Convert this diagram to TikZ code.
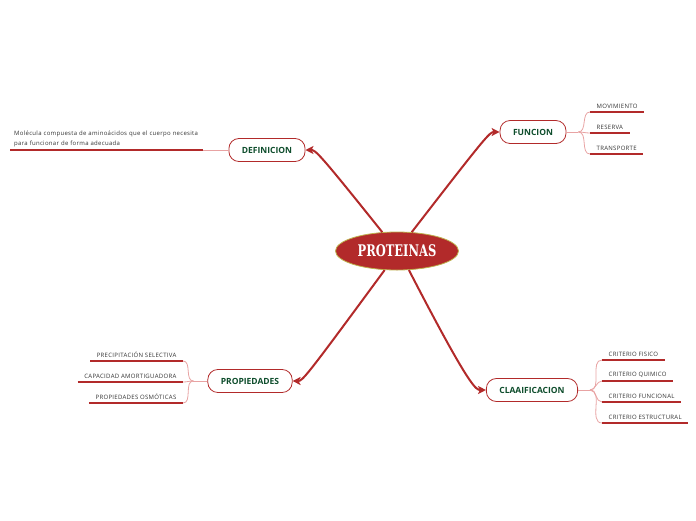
\documentclass[tikz,border=0pt]{standalone}
\usepackage{fontspec}
\setmainfont{Open Sans}
\newfontfamily\titlefont[FakeStretch=0.72]{DejaVu Serif}
\newfontfamily\hojafont[LetterSpace=5]{Open Sans}
\usetikzlibrary{positioning,arrows.meta,shapes.geometric}
\definecolor{rojo}{HTML}{B22A2A}
\definecolor{rosa}{HTML}{E8A3A3}
\definecolor{verde}{HTML}{0E4D2C}
\definecolor{oliva}{HTML}{BDB24E}
\definecolor{gris}{HTML}{333333}
\tikzset{
	raiz/.style={ellipse, draw=oliva, line width=0.8pt, fill=rojo, text=white,
		minimum width=123pt, minimum height=38pt, inner sep=0pt,
		font=\titlefont\bfseries\fontsize{16}{18}\selectfont},
	tema/.style={draw=rojo, line width=0.8pt, fill=white, rounded corners=10pt,
		minimum height=23pt, inner xsep=13pt, text=verde,
		font=\bfseries\fontsize{8.5}{10}\selectfont},
	rama/.style={draw=rojo, line width=2pt, -{Stealth[length=8pt,width=8pt,inset=2pt]}},
	hoja/.style={text=gris, inner xsep=6.5pt, inner ysep=3pt,
		font=\hojafont\fontsize{6}{7}\selectfont},
	subrayado/.style={draw=rojo, line width=1.6pt},
	abanico/.style={draw=rosa, line width=0.8pt}
}
\begin{document}
\begin{tikzpicture}[x=1pt, y=-1pt]
	\useasboundingbox (0,0) rectangle (696,520);
	\node[raiz] (prot) at (397,251) {PROTEINAS};
	\node[tema] (defi) at (267,150) {DEFINICION};
	\node[tema] (func) at (533,132) {FUNCION};
	\node[tema] (prop) at (250,381) {PROPIEDADES};
	\node[tema] (clas) at (532,390) {CLAAIFICACION};
	
	\draw[rama] (prot.128) .. controls +(-64,-80) and +(10,0) .. (defi.east);
	\draw[rama] (prot.52) .. controls +(75,-97) and +(-10,0) .. (func.west);
	\draw[rama] (prot.237) .. controls +(-78,106) and +(10,0) .. (prop.east);
	\draw[rama] (prot.302) .. controls +(61,118) and +(-10,0) .. (clas.west);
	
	% definicion
	\node[hoja, anchor=south west, text width=185pt, inner xsep=4pt, align=left,
		font=\hojafont\fontsize{6}{9.5}\selectfont] (defiTxt) at (10,150)
		{Molécula compuesta de aminoácidos que el cuerpo necesita\\para funcionar de forma adecuada};
	\draw[subrayado] (defiTxt.south west) -- (defiTxt.south east);
	\draw[abanico] (defiTxt.south east) -- (defi.west);
	
	% funcion
	\coordinate[right=12pt of func.east] (funcFan);
	\node[hoja, anchor=south west] (movi) at (590,112) {MOVIMIENTO};
	\node[hoja, anchor=south west] (rese) at (590,133) {RESERVA};
	\node[hoja, anchor=south west] (tran) at (590,154) {TRANSPORTE};
	\draw[abanico] (func.east) -- (funcFan);
	\foreach \n in {movi,rese,tran} {
		\draw[abanico] (funcFan) to[out=0, in=180] (\n.south west);
		\draw[subrayado] (\n.south west) -- (\n.south east);
	}
	
	% propiedades
	\coordinate[left=14pt of prop.west] (propFan);
	\node[hoja, anchor=south east] (prec) at (183,361) {PRECIPITACIÓN SELECTIVA};
	\node[hoja, anchor=south east] (capa) at (183,382) {CAPACIDAD AMORTIGUADORA};
	\node[hoja, anchor=south east] (osmo) at (183,403) {PROPIEDADES OSMÓTICAS};
	\draw[abanico] (prop.west) -- (propFan);
	\foreach \n in {prec,capa,osmo} {
		\draw[abanico] (propFan) to[out=180, in=0] (\n.south east);
		\draw[subrayado] (\n.south west) -- (\n.south east);
	}
	
	% clasificacion
	\coordinate[right=12pt of clas.east] (clasFan);
	\node[hoja, anchor=south west] (fisi) at (602,360) {CRITERIO FISICO};
	\node[hoja, anchor=south west] (quim) at (602,381) {CRITERIO QUIMICO};
	\node[hoja, anchor=south west] (funi) at (602,402) {CRITERIO FUNCIONAL};
	\node[hoja, anchor=south west] (estr) at (602,423) {CRITERIO ESTRUCTURAL};
	\draw[abanico] (clas.east) -- (clasFan);
	\foreach \n in {fisi,quim,funi,estr} {
		\draw[abanico] (clasFan) to[out=0, in=180] (\n.south west);
		\draw[subrayado] (\n.south west) -- (\n.south east);
	}
\end{tikzpicture}
\end{document}
